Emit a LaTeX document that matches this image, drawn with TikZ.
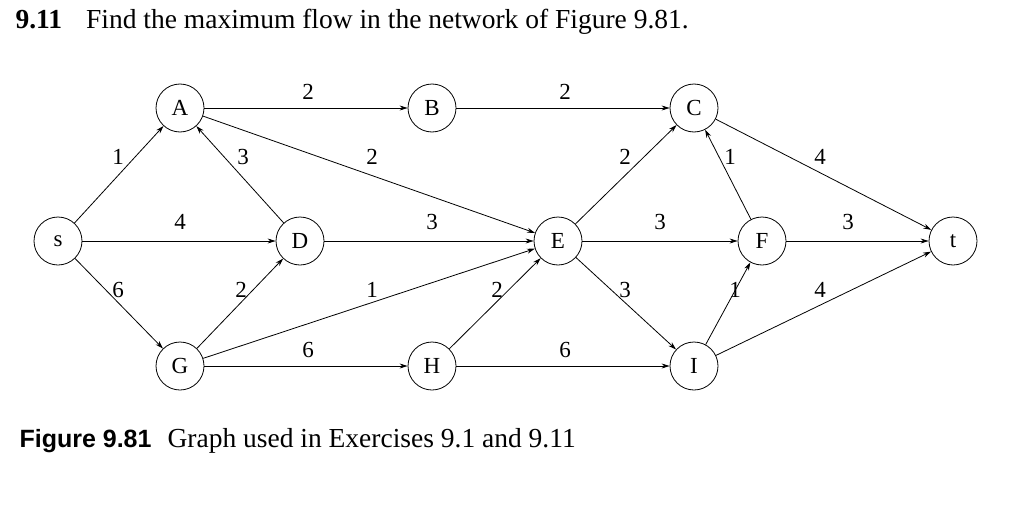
\documentclass[tikz,border=0pt]{standalone}
\usepackage{fontspec}
\setmainfont{Liberation Serif}
\newfontfamily\capsans{Liberation Sans}
\usetikzlibrary{arrows.meta}
\begin{document}
\begin{tikzpicture}[x=1pt,y=-1pt,
  v/.style={circle,draw,line width=0.8pt,minimum size=48pt,inner sep=0pt,font=\fontsize{23}{25}\selectfont},
  e/.style={draw,line width=0.8pt,-{Stealth[length=8pt,width=5pt]}},
  w/.style={font=\fontsize{23}{25}\selectfont,inner sep=1pt}]
\useasboundingbox (0,0) rectangle (1024,519);
\node[anchor=west,font=\fontsize{27.5}{30}\selectfont] (title) at (12,22) {\textbf{9.11}\hspace{24pt}Find the maximum flow in the network of Figure 9.81.};
\node[v] (s) at (58,241) {s};
\node[v] (A) at (180,108) {A};
\node[v] (B) at (432,108) {B};
\node[v] (C) at (694,108) {C};
\node[v] (D) at (300,241) {D};
\node[v] (E) at (558,241) {E};
\node[v] (F) at (762,241) {F};
\node[v] (t) at (953,241) {t};
\node[v] (G) at (180,366) {G};
\node[v] (H) at (432,366) {H};
\node[v] (I) at (694,366) {I};
\draw[e] (s) -- (A); \node[w] (l1) at (118,157) {1};
\draw[e] (s) -- (D); \node[w] (l2) at (180,222) {4};
\draw[e] (s) -- (G); \node[w] (l3) at (118,290) {6};
\draw[e] (A) -- (B); \node[w] (l4) at (308,92) {2};
\draw[e] (B) -- (C); \node[w] (l5) at (565,92) {2};
\draw[e] (A) -- (E); \node[w] (l6) at (372,157) {2};
\draw[e] (D) -- (A); \node[w] (l7) at (243,157) {3};
\draw[e] (D) -- (E); \node[w] (l8) at (432,222) {3};
\draw[e] (G) -- (D); \node[w] (l9) at (241,290) {2};
\draw[e] (G) -- (E); \node[w] (l10) at (372,290) {1};
\draw[e] (G) -- (H); \node[w] (l11) at (308,350) {6};
\draw[e] (H) -- (E); \node[w] (l12) at (497,290) {2};
\draw[e] (H) -- (I); \node[w] (l13) at (565,350) {6};
\draw[e] (E) -- (C); \node[w] (l14) at (625,157) {2};
\draw[e] (E) -- (F); \node[w] (l15) at (660,222) {3};
\draw[e] (E) -- (I); \node[w] (l16) at (625,290) {3};
\draw[e] (F) -- (C); \node[w] (l17) at (730,157) {1};
\draw[e] (F) -- (t); \node[w] (l18) at (848,222) {3};
\draw[e] (C) -- (t); \node[w] (l19) at (820,157) {4};
\draw[e] (I) -- (F); \node[w] (l20) at (735,290) {1};
\draw[e] (I) -- (t); \node[w] (l21) at (820,290) {4};
\node[anchor=west,font=\fontsize{27.5}{30}\selectfont] (cap) at (16,441) {{\capsans\bfseries\fontsize{25}{28}\selectfont Figure 9.81}\hspace{16pt}Graph used in Exercises 9.1 and 9.11};
\end{tikzpicture}
\end{document}
